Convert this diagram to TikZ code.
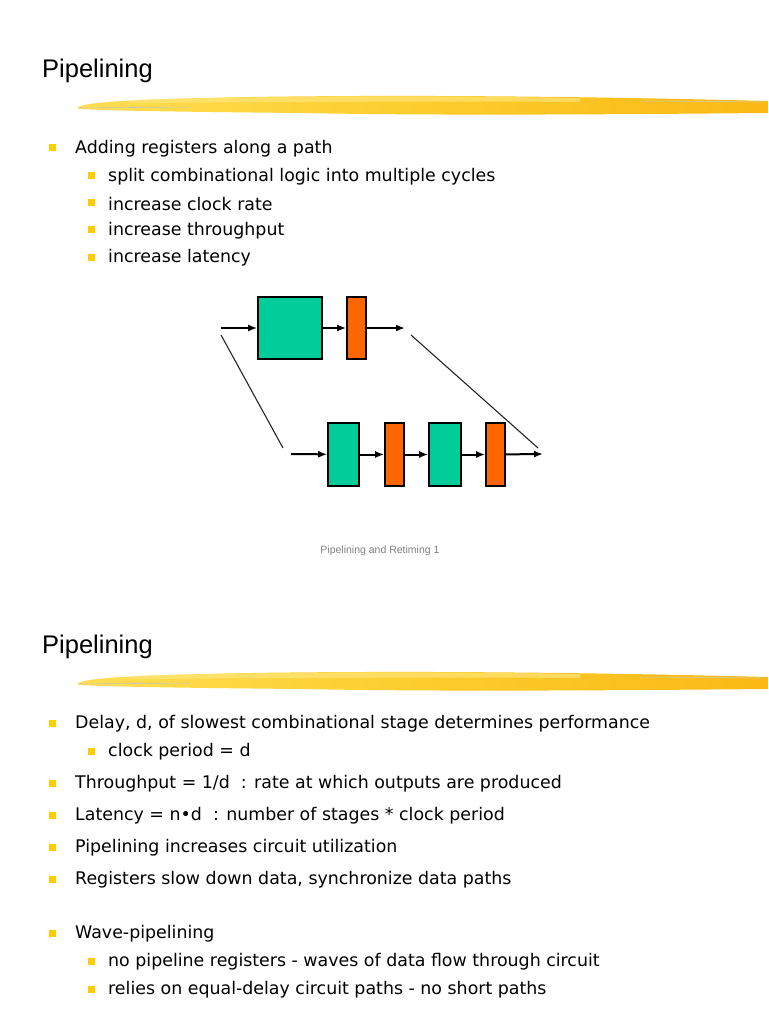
\documentclass[tikz,border=0pt]{standalone}
\usepackage{fontspec}
\setmainfont{DejaVu Sans}
\newfontfamily\titlefont{Liberation Sans}
\usetikzlibrary{arrows.meta}
\definecolor{grn}{RGB}{0,204,153}
\definecolor{org}{RGB}{255,102,0}
\definecolor{byel}{RGB}{255,222,80}
\definecolor{bora}{RGB}{250,185,20}
\definecolor{bmid}{RGB}{252,205,45}
\definecolor{bul}{RGB}{255,204,0}
\tikzset{
  txt/.style={anchor=west,font=\fontsize{17.4}{20}\selectfont,inner sep=0pt},
  ttl/.style={anchor=west,font=\titlefont\fontsize{25.5}{30}\selectfont,inner sep=0pt},
  bull/.style={fill=bul,minimum size=7pt,inner sep=0pt},
  comb/.style={draw=black,line width=1.6pt,fill=grn,inner sep=0pt},
  reg/.style={draw=black,line width=1.6pt,fill=org,inner sep=0pt,minimum width=19pt,minimum height=62pt},
  arr/.style={-{Latex[length=9pt,width=7pt]},line width=2pt},
  thin/.style={line width=1.1pt,black!85}
}
\newcommand{\brush}[1]{%
  \shade[left color=byel,right color=bora,middle color=bmid] (78,#1+3) .. controls (90,#1-3) and (150,#1-5) .. (250,#1-7) .. controls (450,#1-10) and (650,#1-6) .. (768,#1-3) -- (768,#1+9) .. controls (650,#1+10) and (450,#1+12) .. (300,#1+9) .. controls (200,#1+8) and (120,#1+7) .. (78,#1+5) -- cycle;
  \fill[byel!70!white,opacity=0.6] (130,#1-4) .. controls (300,#1-9) and (450,#1-8) .. (580,#1-6) -- (580,#1-2) .. controls (450,#1-3) and (300,#1-2) .. (130,#1-1) -- cycle;
  \draw[gray!45,line width=0.6pt] (80,#1+4) -- (190,#1+3);
  \draw[gray!40,line width=0.5pt] (640,#1-3) -- (765,#1-2);
}
\begin{document}
\begin{tikzpicture}[x=1pt,y=-1pt]
\useasboundingbox[fill=white] (0,0) rectangle (768,1024);
% slide 1
\node[ttl] (t1) at (42,71) {Pipelining};
\brush{104}
\node[bull] (b1) at (52,148) {}; \node[txt] (l1) at (75,149) {Adding registers along a path};
\foreach \y/\t [count=\i] in {177/split combinational logic into multiple cycles,204/increase clock rate,231/increase throughput,258/increase latency}{\node[bull] (s\i) at (91,\y-1) {}; \node[txt] (m\i) at (108,\y) {\t};}
% diagram
\coordinate (ti) at (221,328);
\node[comb,minimum width=64pt,minimum height=62pt] (C) at (290,328) {};
\node[reg] (R) at (356.5,328) {};
\coordinate (to) at (405,328);
\draw[arr] (ti) -- (C);
\draw[arr] (C) -- (R);
\draw[arr] (R) -- (to);
\coordinate (bi) at (291,454);
\node[comb,minimum width=31pt,minimum height=63pt] (C1) at (343.5,454.5) {};
\node[reg,minimum height=63pt] (R1) at (394.5,454.5) {};
\node[comb,minimum width=32pt,minimum height=63pt] (C2) at (445,454.5) {};
\node[reg,minimum height=63pt] (R2) at (495.5,454.5) {};
\coordinate (bo) at (543,454);
\draw[arr] (bi) -- (C1);
\draw[arr] (C1) -- (R1);
\draw[arr] (R1) -- (C2);
\draw[arr] (C2) -- (R2);
\draw[arr] (R2) -- (bo);
\coordinate (d1a) at (221,335); \coordinate (d1b) at (283,448);
\coordinate (d2a) at (411,335); \coordinate (d2b) at (538,448);
\draw[thin] (d1a) -- (d1b);
\draw[thin] (d2a) -- (d2b);
\node[font=\titlefont\fontsize{10.5}{12}\selectfont,text=gray] (foot) at (380,551) {Pipelining and Retiming 1};
% slide 2
\node[ttl] (t2) at (42,647) {Pipelining};
\brush{680}
\foreach \y/\t [count=\i] in {724/{Delay, d, of slowest combinational stage determines performance},784/{Throughput = 1/d\ \ : rate at which outputs are produced},816/{Latency = n•d\ \ : number of stages * clock period},848/{Pipelining increases circuit utilization},880/{Registers slow down data, synchronize data paths},934/{Wave-pipelining}}{\node[bull] (p\i) at (52,\y-1) {}; \node[txt] (q\i) at (75,\y) {\t};}
\foreach \y/\t [count=\i] in {752/{clock period = d},962/{no pipeline registers - waves of data flow through circuit},990/{relies on equal-delay circuit paths - no short paths}}{\node[bull] (u\i) at (91,\y-1) {}; \node[txt] (v\i) at (108,\y) {\t};}
\end{tikzpicture}
\end{document}
